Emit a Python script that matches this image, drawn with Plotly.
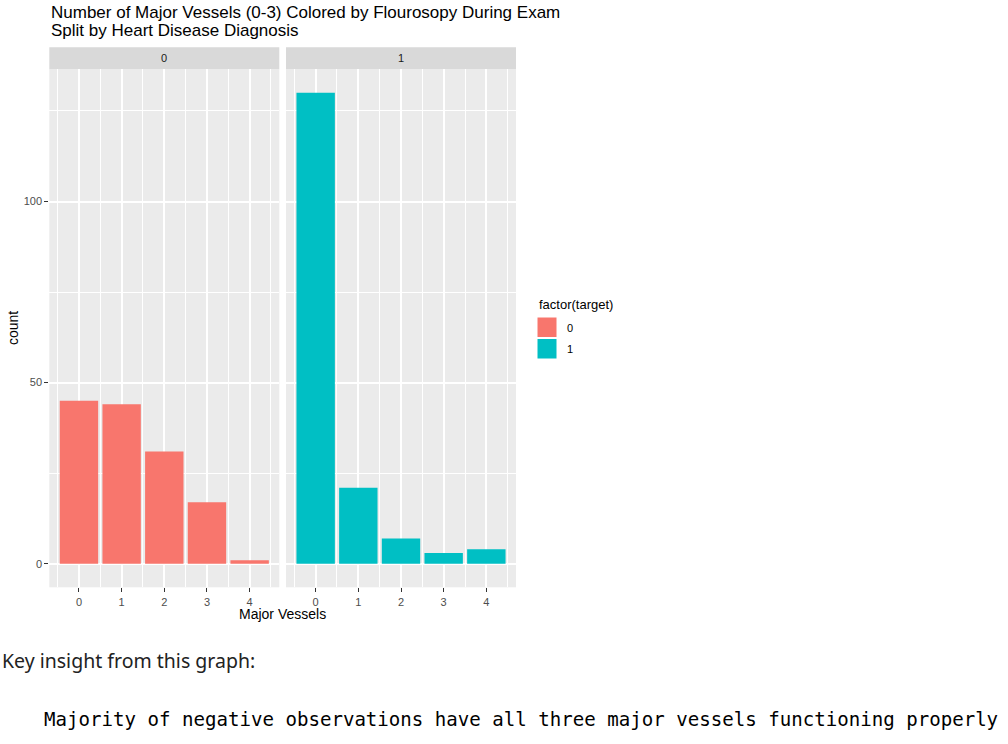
import plotly.graph_objects as go

# data: counts of major vessels (ca) split by target
vessels = [0, 1, 2, 3, 4]
count_target0 = [45, 44, 31, 17, 1]
count_target1 = [130, 21, 7, 3, 4]
targets = ["0", "1"]
colors = {"0": "#F8766D", "1": "#00BFC4"}

W, H = 1008, 744


def px_x(p):
    return p / W


def px_y(p):
    return 1 - p / H


fig = go.Figure()
fig.add_trace(go.Bar(x=vessels, y=count_target0, width=0.9, name=targets[0],
                     marker=dict(color=colors["0"], line=dict(width=0)),
                     xaxis="x", yaxis="y", showlegend=False))
fig.add_trace(go.Bar(x=vessels, y=count_target1, width=0.9, name=targets[1],
                     marker=dict(color=colors["1"], line=dict(width=0)),
                     xaxis="x2", yaxis="y2", showlegend=False))

tickfont = dict(family="Liberation Sans", size=11, color="#4D4D4D")
xcommon = dict(range=[-0.695, 4.695], tickvals=vessels, ticktext=[str(v) for v in vessels],
               showgrid=True, gridcolor="white", gridwidth=1.6, zeroline=False,
               ticks="outside", ticklen=4, tickcolor="#333333", tickwidth=1,
               tickfont=tickfont, showline=False,
               minor=dict(tickvals=[-0.5, 0.5, 1.5, 2.5, 3.5, 4.5], showgrid=True,
                          gridcolor="white", gridwidth=0.8, ticks=""))
ycommon = dict(range=[-6.5, 136.5], tickvals=[0, 50, 100],
               showgrid=True, gridcolor="white", gridwidth=1.6, zeroline=False,
               tickcolor="#333333", tickwidth=1, ticklen=4, showline=False,
               minor=dict(tickvals=[25, 75, 125], showgrid=True,
                          gridcolor="white", gridwidth=0.8, ticks=""))

ydom = [px_y(587.3), px_y(69.3)]
fig.update_layout(
    width=W, height=H,
    margin=dict(l=0, r=0, t=0, b=0),
    paper_bgcolor="white", plot_bgcolor="#EBEBEB",
    barmode="overlay",
    showlegend=False,
    xaxis=dict(domain=[px_x(49.3), px_x(279.3)], anchor="y", **xcommon),
    yaxis=dict(domain=ydom, anchor="x", ticks="outside", tickfont=tickfont, **ycommon),
    xaxis2=dict(domain=[px_x(286), px_x(516)], anchor="y2", **xcommon),
    yaxis2=dict(domain=ydom, anchor="x2", ticks="", showticklabels=False, **ycommon),
    font=dict(family="Liberation Sans"),
)

# facet strips
for dom, lab in [((49.3, 279.3), "0"), ((286, 516), "1")]:
    fig.add_shape(type="rect", xref="paper", yref="paper",
                  x0=px_x(dom[0]), x1=px_x(dom[1]), y0=px_y(69.3), y1=px_y(47.3),
                  fillcolor="#D9D9D9", line=dict(width=0), layer="below")
    fig.add_annotation(x=px_x((dom[0] + dom[1]) / 2), y=px_y(58.3), xref="paper", yref="paper",
                       text=lab, showarrow=False, xanchor="center", yanchor="middle",
                       font=dict(family="Liberation Sans", size=11, color="#1A1A1A"))

# legend (ggplot style keys)
for i, t in enumerate(targets):
    top = 317 + i * 21.5
    fig.add_shape(type="rect", xref="paper", yref="paper",
                  x0=px_x(537), x1=px_x(557), y0=px_y(top + 20.5), y1=px_y(top),
                  fillcolor=colors[t], line=dict(color="white", width=1))
    fig.add_annotation(x=px_x(565), y=px_y(top + 10.5), xref="paper", yref="paper",
                       text=t, showarrow=False, xanchor="left", yanchor="middle",
                       font=dict(family="Liberation Sans", size=11, color="black"))

ann = [
    dict(x=px_x(537), y=px_y(304), text="factor(target)",
         xanchor="left", font=dict(family="Liberation Sans", size=13, color="black")),
    dict(x=px_x(49), y=px_y(13), text="Number of Major Vessels (0-3) Colored by Flourosopy During Exam",
         xanchor="left", font=dict(family="Liberation Sans", size=17, color="black")),
    dict(x=px_x(49), y=px_y(31), text="Split by Heart Disease Diagnosis",
         xanchor="left", font=dict(family="Liberation Sans", size=17, color="black")),
    dict(x=px_x(282.6), y=px_y(614), text="Major Vessels",
         xanchor="center", font=dict(family="Liberation Sans", size=14, color="black")),
    dict(x=px_x(13), y=px_y(328), text="count", textangle=-90,
         xanchor="center", font=dict(family="Liberation Sans", size=14, color="black")),
    dict(x=px_x(0), y=px_y(660), text="Key insight from this graph:",
         xanchor="left", font=dict(family="Noto Sans", size=19.5, color="#222222")),
    dict(x=px_x(42), y=px_y(719), text="Majority of negative observations have all three major vessels functioning properly",
         xanchor="left", font=dict(family="DejaVu Sans Mono", size=19.1, color="black")),
]
for a in ann:
    fig.add_annotation(xref="paper", yref="paper", showarrow=False, yanchor="middle", **a)

# drop the default 8px body margin so the figure fills the window exactly
fig.write_html("out.html", config={"displayModeBar": False},
               post_script="document.body.style.margin='0';")
